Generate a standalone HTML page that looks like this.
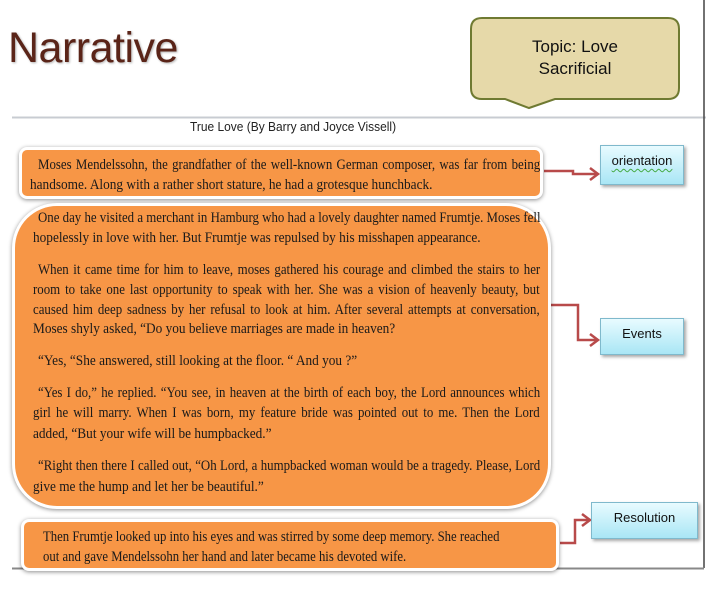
<!DOCTYPE html>
<html><head><meta charset="utf-8"><style>
body{margin:0;width:706px;height:593px;background:#fff;position:relative;overflow:hidden;font-family:"Liberation Serif",serif}
.a{position:absolute}
.ln{position:absolute;font-size:14.3px;color:#1a1a1a;white-space:nowrap;line-height:18px;transform:scaleX(0.93);transform-origin:0 0}
.j{text-align:justify;text-align-last:justify;transform:scaleX(0.9)}
.s{transform:scaleX(0.89)}
.box{position:absolute;background:#f79646;border:3px solid #fff;box-shadow:0 1px 4px rgba(0,0,0,.45)}
.lab{position:absolute;background:linear-gradient(#e8fbff,#a9e6f5);border:1px solid #7fb9cc;box-shadow:2px 2px 3px rgba(0,0,0,.35);font-family:"Liberation Sans",sans-serif;font-size:13px;text-align:center;color:#111}
</style></head><body>
<div class="a" style="left:8px;top:24px;font-family:'Liberation Sans',sans-serif;font-size:43px;color:#5a2418;text-shadow:1px 1px 2px rgba(0,0,0,.3);letter-spacing:-0.5px">Narrative</div>
<svg class="a" style="left:0;top:0" width="706" height="593">
<path d="M482,18 H668 Q679,18 679,29 V88 Q679,99 668,99 H555 L529,108 L505,99 H482 Q471,99 471,88 V29 Q471,18 482,18 Z" fill="#e6d9a9" stroke="#6f7a32" stroke-width="2"/>
<line x1="12" y1="117.5" x2="706" y2="117.5" stroke="#c8ccd2" stroke-width="2"/>
<line x1="704" y1="0" x2="704" y2="568" stroke="#444" stroke-width="1.5"/>
<line x1="12" y1="568.5" x2="704" y2="568.5" stroke="#888" stroke-width="2"/>
<g stroke="#b84a4a" stroke-width="2.5" fill="none">
<path d="M544,171 H573 V174 H598"/><path d="M590,168 L598,174 L590,180"/>
<path d="M551,305 H578 V340 H598"/><path d="M590,334 L598,340 L590,346"/>
<path d="M560,543 H575 V520 H590"/><path d="M582,514 L590,520 L582,526"/>
</g>
</svg>
<div class="a" style="left:471px;top:36px;width:208px;text-align:center;font-family:'Liberation Sans',sans-serif;font-size:17px;line-height:22px;color:#111">Topic: Love<br>Sacrificial</div>
<div class="a" style="left:190px;top:119px;font-family:'Liberation Sans',sans-serif;font-size:13px;color:#222;transform:scaleX(0.92);transform-origin:0 0">True Love (By Barry and Joyce Vissell)</div>

<div class="box" style="left:19px;top:147px;width:518px;height:46px;border-radius:8px"></div>
<div class="ln j" style="left:38px;top:156px;width:558px">Moses Mendelssohn, the grandfather of the well-known German composer, was far from being</div>
<div class="ln" style="left:30px;top:176px">handsome. Along with a rather short stature, he had a grotesque hunchback.</div>

<div class="box" style="left:12px;top:203px;width:533px;height:300px;border-radius:45px"></div>
<div class="ln j" style="left:38px;top:209px;width:558px">One day he visited a merchant in Hamburg who had a lovely daughter named Frumtje. Moses fell</div>
<div class="ln" style="left:33px;top:229px">hopelessly in love with her. But Frumtje was repulsed by his misshapen appearance.</div>
<div class="ln j" style="left:38px;top:261px;width:558px">When it came time for him to leave, moses gathered his courage and climbed the stairs to her</div>
<div class="ln j" style="left:33px;top:281px;width:563px">room to take one last opportunity to speak with her. She was a vision of heavenly beauty, but</div>
<div class="ln j" style="left:33px;top:301px;width:563px">caused him deep sadness by her refusal to look at him. After several attempts at conversation,</div>
<div class="ln" style="left:33px;top:320px">Moses shyly asked, “Do you believe marriages are made in heaven?</div>
<div class="ln" style="left:38px;top:352px">“Yes, “She answered, still looking at the floor. “ And you ?”</div>
<div class="ln j" style="left:38px;top:384px;width:558px">“Yes I do,” he replied. “You see, in heaven at the birth of each boy, the Lord announces which</div>
<div class="ln j" style="left:33px;top:404px;width:563px">girl he will marry. When I was born, my feature bride was pointed out to me. Then the Lord</div>
<div class="ln" style="left:33px;top:425px">added, “But your wife will be humpbacked.”</div>
<div class="ln j" style="left:38px;top:457px;width:558px">“Right then there I called out, “Oh Lord, a humpbacked woman would be a tragedy. Please, Lord</div>
<div class="ln" style="left:33px;top:478px">give me the hump and let her be beautiful.”</div>

<div class="box" style="left:21px;top:519px;width:532px;height:46px;border-radius:8px"></div>
<div class="ln s" style="left:43px;top:528px">Then Frumtje looked up into his eyes and was stirred by some deep memory. She reached</div>
<div class="ln s" style="left:43px;top:548px">out and gave Mendelssohn her hand and later became his devoted wife.</div>

<div class="lab" style="left:600px;top:145px;width:82px;height:38px;line-height:30px"><span style="text-decoration:underline wavy #4a4;text-underline-offset:3px;text-decoration-thickness:1px">orientation</span></div>
<div class="lab" style="left:600px;top:318px;width:82px;height:35px;line-height:30px">Events</div>
<div class="lab" style="left:591px;top:502px;width:105px;height:35px;line-height:30px">Resolution</div>
</body></html>
